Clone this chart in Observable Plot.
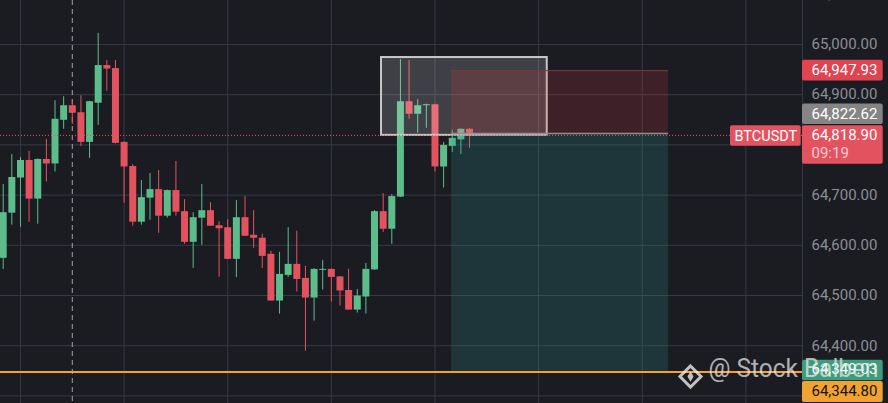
<!DOCTYPE html>
<html>
<head>
<meta charset="utf-8">
<script src="https://cdn.jsdelivr.net/npm/d3@7"></script>
<script src="https://cdn.jsdelivr.net/npm/@observablehq/plot@0.6"></script>
<style>
  html, body { margin: 0; padding: 0; background: #1b1c22; }
  #chart svg { display: block; }
</style>
</head>
<body>
<div id="chart"></div>
<script>
// ---- Candle data (BTCUSDT) ----
const opens  = [64574,64664,64734,64769,64692,64771,64762,64849,64878,64864,64805,64883,64958,64952,64805,64757,64646,64694,64711,64658,64709,64667,64606,64654,64669,64639,64635,64572,64655,64620,64614,64582,64489,64540,64562,64534,64495,64550,64552,64537,64510,64471,64497,64551,64667,64632,64696,64886,64861,64878,64880,64756,64797,64810,64831];
const highs  = [64721,64781,64775,64787,64772,64811,64888,64896,64890,64898,64887,65022,64968,64968,64806,64761,64729,64743,64749,64710,64767,64691,64665,64721,64685,64647,64651,64689,64697,64669,64622,64588,64586,64635,64628,64558,64553,64570,64553,64538,64552,64512,64564,64669,64703,64701,64970,64968,64890,64881,64881,64805,64829,64832,64833];
const lows   = [64552,64640,64636,64646,64642,64726,64746,64831,64841,64797,64773,64839,64907,64802,64684,64638,64640,64650,64624,64654,64658,64602,64554,64600,64638,64536,64572,64536,64618,64594,64554,64489,64463,64536,64507,64389,64449,64511,64487,64479,64471,64465,64463,64550,64626,64602,64695,64851,64823,64833,64746,64714,64785,64781,64793];
const closes = [64665,64735,64769,64692,64771,64762,64851,64878,64863,64805,64886,64958,64951,64803,64756,64646,64695,64711,64658,64709,64666,64606,64655,64669,64638,64633,64572,64655,64618,64614,64578,64489,64542,64562,64532,64495,64552,64552,64536,64509,64471,64499,64552,64667,64632,64697,64886,64861,64878,64880,64756,64799,64813,64831,64818.9];

// ---- Axis ticks ----
const priceTicks = [64300,64400,64500,64600,64700,64800,64900,65000,65100];
const priceTickLabels = [64400,64500,64600,64700,64800,64900,65000,65100]; // 64,300 is hidden under the tags
const timeGridIdx = [2,14,26,38,50,62,74,86];
const sessionIdx = [8];

// ---- Drawings / price levels ----
const lastPrice = 64818.90;
const countdown = "09:19";
const symbol = "BTCUSDT";
const stopPrice = 64947.93;
const entryPrice = 64822.62;
const targetPrice = 64349.03;
const alertPrice = 64344.80;
const alertLine = 64347.5;
const boxX = [43.81, 63.0];
const boxY = [64974, 64819];
const posX = [51.92, 77.05];
const watermark = "@ Stock Balben";

const xDomain = [-0.313, 92.56];
const yDomain = [64284.9, 65087.6];
const xMax = xDomain[1];

const candles = opens.map((o, i) => ({i, open: o, high: highs[i], low: lows[i], close: closes[i]}));
const GREEN = "#5cbd8b", RED = "#e3535f";
const col = d => d.close >= d.open ? GREEN : RED;
const fmt = d3.format(",.2f");
const one = [0];

function tagRect(price, fill, off, h) {
  return Plot.rect([price], {
    x1: () => xMax, x2: () => xMax, y1: d => d, y2: d => d,
    insetLeft: 0, insetRight: -80.7,
    insetTop: off - h / 2, insetBottom: -h / 2 - off,
    fill, rx: 2
  });
}
function tagText(price, text, fill, dy) {
  return Plot.text([price], {
    x: () => xMax, y: d => d, text: () => text, dx: 9, dy,
    textAnchor: "start", fill, fontSize: 15
  });
}

const chart = Plot.plot({
  width: 888, height: 403,
  marginLeft: 0, marginRight: 86, marginTop: 0, marginBottom: 0,
  x: {domain: xDomain, axis: null},
  y: {domain: yDomain, axis: null},
  style: {background: "#1b1c22", fontFamily: "Roboto, 'Noto Sans', sans-serif", fontSize: "15px", color: "#8a8e97"},
  marks: [
    Plot.gridY(priceTicks, {stroke: "#363a45", strokeOpacity: 1}),
    Plot.gridX(timeGridIdx, {stroke: "#363a45", strokeOpacity: 1}),
    Plot.ruleX(sessionIdx, {stroke: "#a3a3a8", strokeDasharray: "5,4", strokeWidth: 1}),
    // candles
    Plot.ruleX(candles, {x: "i", y1: "low", y2: "high", stroke: col, strokeWidth: 1}),
    Plot.ruleX(candles, {x: "i", y1: "open", y2: "close", stroke: col, strokeWidth: 7}),
    // rectangle drawing
    Plot.rect(one, {x1: () => boxX[0], x2: () => boxX[1], y1: () => boxY[0], y2: () => boxY[1],
      fill: "rgba(255,255,255,0.16)", stroke: "#c8c8c8", strokeWidth: 2}),
    // position tool
    Plot.rect(one, {x1: () => posX[0], x2: () => posX[1], y1: () => stopPrice, y2: () => entryPrice,
      fill: "rgba(220,60,70,0.18)"}),
    Plot.rect(one, {x1: () => posX[0], x2: () => posX[1], y1: () => entryPrice, y2: () => targetPrice,
      fill: "rgba(47,153,148,0.2)"}),
    Plot.ruleY([stopPrice], {x1: posX[0], x2: posX[1], stroke: "#7a3a3e", strokeWidth: 1}),
    Plot.ruleY([entryPrice], {x1: posX[0], x2: posX[1], stroke: "#8f8f8f", strokeWidth: 1.5}),
    // alert line
    Plot.ruleY([alertLine], {x1: xDomain[0], x2: xMax, stroke: "#f2a233", strokeWidth: 2}),
    // last price line
    Plot.ruleY([lastPrice], {x1: xDomain[0], x2: xMax, stroke: RED, strokeWidth: 1, strokeDasharray: "1,2"}),
    // price scale border
    Plot.ruleX([xMax], {stroke: "#363a45", strokeWidth: 1}),
    Plot.axisY(priceTickLabels, {anchor: "right", tickSize: 0, tickPadding: 9, tickFormat: fmt,
      fill: "#8a8e97", fontSize: 15, textAnchor: "start"}),
    // price tags
    tagRect(stopPrice, "#df4450", 0, 20.7),
    tagText(stopPrice, fmt(stopPrice), "#ffffff", 0),
    tagRect(entryPrice, "#858585", -19.3, 20.7),
    tagText(entryPrice, fmt(entryPrice), "#ffffff", -19.3),
    tagRect(lastPrice, RED, 9.6, 38.4),
    tagText(lastPrice, fmt(lastPrice), "#ffffff", 0),
    tagText(lastPrice, countdown, "rgba(255,255,255,0.72)", 18),
    Plot.rect([lastPrice], {x1: () => xMax, x2: () => xMax, y1: d => d, y2: d => d,
      insetLeft: -72, insetRight: 1.3, insetTop: 0.6 - 10.2, insetBottom: -10.2 - 0.6, fill: RED, rx: 2}),
    Plot.text([lastPrice], {x: () => xMax, y: d => d, text: () => symbol, dx: -68, dy: 0.6,
      textAnchor: "start", fill: "#ffffff", fontSize: 14.5}),
    tagRect(targetPrice, "#3d9c80", -0.8, 20.5),
    tagText(targetPrice, fmt(targetPrice), "#ffffff", -2.5),
    tagRect(alertPrice, "#f0a233", 18.6, 21),
    tagText(alertPrice, fmt(alertPrice), "#141414", 18),
    // watermark
    Plot.dot(one, {frameAnchor: "bottom-right", dx: -112, dy: -27, symbol: "diamond2", r: 9.5,
      stroke: "rgba(235,235,235,0.8)", strokeWidth: 3}),
    Plot.dot(one, {frameAnchor: "bottom-right", dx: -112, dy: -27, symbol: "diamond", r: 3.2,
      fill: "rgba(235,235,235,0.8)"}),
    Plot.text(one, {frameAnchor: "bottom-right", dx: -94, dy: -26.5, text: () => watermark,
      textAnchor: "start", fill: "rgba(235,235,235,0.72)", fontSize: 26, className: "wm"})
  ]
});
document.getElementById("chart").appendChild(chart);
// fit the watermark text to its width in the picture
chart.querySelectorAll(".wm text").forEach(t => {
  t.setAttribute("textLength", "170");
  t.setAttribute("lengthAdjust", "spacingAndGlyphs");
});
</script>
</body>
</html>
